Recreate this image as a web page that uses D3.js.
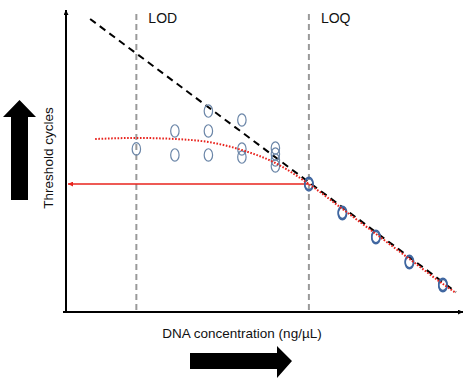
<!DOCTYPE html>
<html><head><meta charset="utf-8">
<script src="https://cdn.jsdelivr.net/npm/d3@7"></script>
<style>body{margin:0;background:#fff}svg{display:block}text{font-family:"Liberation Sans",Arial,sans-serif}</style>
</head><body>
<svg id="c" width="474" height="382"></svg>
<script>
// log10 concentration level (arbitrary units) and threshold cycle values
const lodX = 1.85, loqX = 7;
const pointX =  [1.85, 3,     3,     4,     4,     4,     5,     5,     5,     6,     6,     6,     6,     7,     7,     8,     8,     9,     9,     10,    10,    11,    11];
const pointCt = [28.9, 30.98, 28.2,  33.29, 30.98, 28.2,  32.25, 28.89, 27.96, 29.0,  28.31, 27.62, 26.92, 24.9,  24.75, 21.55, 21.4,  18.75, 18.62, 15.85, 15.72, 13.2,  13.06];
const fitX  = [0.47, 11.39];
const fitCt = [43.96, 12.32];
const curveX  = [0.62, 1.85, 3, 4, 5, 6, 7, 8, 9, 10, 11, 11.39];
const curveCt = [30.05, 30.17, 30.05, 29.7, 28.77, 27.27, 24.83, 21.95, 19.05, 16.15, 13.25, 12.2];
const readCt = 24.83;
const labels = {x: "DNA concentration (ng/µL)", y: "Threshold cycles", lod: "LOD", loq: "LOQ"};

const svg = d3.select("#c");
const x = d3.scaleLinear().domain([-0.25, 11.6]).range([66, 463]);
const y = d3.scaleLinear().domain([10, 45]).range([312, 10]);

const defs = svg.append("defs");
defs.append("marker").attr("id","ax").attr("viewBox","0 0 10 10").attr("refX",10).attr("refY",5)
  .attr("markerWidth",5).attr("markerHeight",5).attr("orient","auto-start-reverse").attr("markerUnits","userSpaceOnUse")
  .append("path").attr("d","M0,0L10,5L0,10z").attr("fill","#000");
defs.append("marker").attr("id","rd").attr("viewBox","0 0 10 10").attr("refX",10).attr("refY",5)
  .attr("markerWidth",6).attr("markerHeight",5).attr("orient","auto-start-reverse").attr("markerUnits","userSpaceOnUse")
  .append("path").attr("d","M0,0L10,5L0,10z").attr("fill","#e8231d");

// LOD / LOQ vertical dashed lines
[[lodX, labels.lod],[loqX, labels.loq]].forEach(([v,t])=>{
  svg.append("line").attr("x1",x(v)).attr("x2",x(v)).attr("y1",14).attr("y2",312)
    .attr("stroke","#9a9a9a").attr("stroke-width",2).attr("stroke-dasharray","6,4");
  svg.append("text").attr("x",x(v)+12).attr("y",23).attr("font-size",14).attr("fill","#111").text(t);
});

// axes
svg.append("line").attr("x1",x.range()[0]).attr("x2",x.range()[0]).attr("y1",312).attr("y2",y.range()[1])
  .attr("stroke","#000").attr("stroke-width",2).attr("marker-end","url(#ax)");
svg.append("line").attr("x1",63).attr("x2",x.range()[1]).attr("y1",312).attr("y2",312)
  .attr("stroke","#000").attr("stroke-width",2).attr("marker-end","url(#ax)");

// fitted standard curve (black dashed)
svg.append("line").attr("x1",x(fitX[0])).attr("y1",y(fitCt[0])).attr("x2",x(fitX[1])).attr("y2",y(fitCt[1]))
  .attr("stroke","#000").attr("stroke-width",2).attr("stroke-dasharray","7,5");

// red readout arrow
svg.append("line").attr("x1",x(loqX)).attr("x2",x.range()[0]+2).attr("y1",y(readCt)).attr("y2",y(readCt))
  .attr("stroke","#e8231d").attr("stroke-width",1.6).attr("marker-end","url(#rd)");

// points
svg.append("g").selectAll("ellipse").data(pointX.map((v,i)=>({x:v,c:pointCt[i]}))).join("ellipse")
  .attr("cx",d=>x(d.x)).attr("cy",d=>y(d.c)).attr("rx",4.2).attr("ry",6.2)
  .attr("fill","none").attr("stroke",d=>d.x>=loqX?"#3f66a0":"#6b86a8").attr("stroke-width",d=>d.x>=loqX?1.5:1.2);

// red dotted fit curve
const line = d3.line().x(d=>x(d[0])).y(d=>y(d[1])).curve(d3.curveMonotoneX);
svg.append("path").attr("d",line(curveX.map((v,i)=>[v,curveCt[i]])))
  .attr("fill","none").attr("stroke","#e8231d").attr("stroke-width",2).attr("stroke-dasharray","1.6,1.6");

// axis labels
svg.append("text").attr("transform","translate(53,158) rotate(-90)").attr("text-anchor","middle")
  .attr("font-size",13.5).attr("fill","#111").text(labels.y);
svg.append("text").attr("x",242).attr("y",338).attr("text-anchor","middle")
  .attr("font-size",13.5).attr("fill","#111").text(labels.x);

// big black arrows
svg.append("path").attr("d","M11,200L11,117L3,117L19.5,100L36,117L28,117L28,200Z").attr("fill","#000");
svg.append("path").attr("d","M190,353L277,353L277,346L292,361L277,378L277,369L190,369Z").attr("fill","#000");
</script>
</body></html>
